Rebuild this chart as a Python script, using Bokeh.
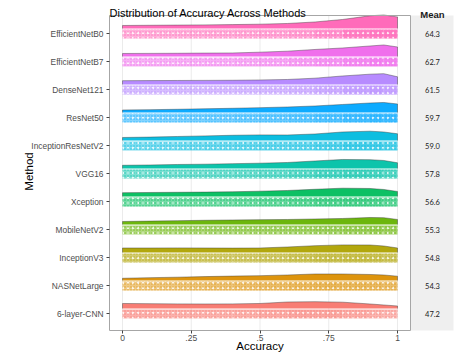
from bokeh.plotting import figure
from bokeh.models import Range1d, FixedTicker, LinearAxis, ColumnDataSource
from bokeh.core.properties import value
from bokeh.embed import file_html
from bokeh.resources import INLINE
import math

# ---------------- data ----------------
methods = ["6-layer-CNN", "NASNetLarge", "InceptionV3", "MobileNetV2", "Xception",
           "VGG16", "InceptionResNetV2", "ResNet50", "DenseNet121",
           "EfficientNetB7", "EfficientNetB0"]
colors = ["#F8766D", "#DB8E00", "#AEA200", "#64B200", "#00BD5C", "#00C1A7",
          "#00BADE", "#00A6FF", "#B385FF", "#EF67EB", "#FF63B6"]
means = [47.2, 54.3, 54.8, 55.3, 56.6, 57.8, 59.0, 59.7, 61.5, 62.7, 64.3]

# accuracy grid on which the density ridges were read
acc_grid = [0.0, 0.1, 0.2, 0.3, 0.4, 0.5, 0.6, 0.7, 0.8, 0.9, 0.95, 1.0]

dens_cnn6 = [5.0, 4.8, 4.6, 4.5, 4.6, 5.0, 6.5, 6.8, 6.3, 4.5, 3.5, 2.5]
dens_nasnetlarge = [2.2, 2.8, 3.3, 3.9, 4.4, 4.8, 5.5, 6.5, 6.5, 6.0, 5.5, 4.3]
dens_inceptionv3 = [4.5, 4.5, 4.6, 4.5, 4.4, 4.5, 5.5, 6.8, 7.6, 7.5, 6.5, 4.5]
dens_mobilenetv2 = [3.0, 3.4, 3.8, 4.2, 4.5, 4.8, 5.0, 5.5, 6.0, 7.0, 6.8, 5.0]
dens_xception = [3.8, 4.0, 4.2, 4.4, 4.7, 5.3, 6.0, 7.2, 8.3, 8.0, 7.0, 5.0]
dens_vgg16 = [3.2, 3.5, 4.0, 4.3, 4.8, 5.3, 6.0, 7.5, 9.0, 8.8, 8.0, 5.7]
dens_inceptionresnetv2 = [3.0, 3.4, 4.0, 4.6, 5.2, 5.6, 5.5, 6.5, 8.5, 9.3, 8.5, 6.7]
dens_resnet50 = [2.5, 2.8, 3.2, 3.7, 4.2, 4.8, 5.5, 6.5, 8.0, 9.5, 10.0, 8.5]
dens_densenet121 = [3.8, 3.9, 4.0, 4.1, 4.2, 4.5, 5.0, 6.3, 8.5, 10.3, 10.8, 7.7]
dens_efficientnetb7 = [3.0, 3.1, 3.2, 3.4, 3.5, 4.3, 5.3, 7.0, 8.5, 10.5, 11.5, 9.5]
dens_efficientnetb0 = [3.0, 3.2, 3.4, 3.6, 3.9, 4.3, 5.0, 6.5, 9.0, 12.7, 13.5, 11.5]

densities = [dens_cnn6, dens_nasnetlarge, dens_inceptionv3, dens_mobilenetv2,
             dens_xception, dens_vgg16, dens_inceptionresnetv2, dens_resnet50,
             dens_densenet121, dens_efficientnetb7, dens_efficientnetb0]

x_ticks = [0, 0.25, 0.5, 0.75, 1]
x_tick_labels = ["0", ".25", ".5", ".75", "1"]

# ---------------- layout constants ----------------
PX_X = 275.0      # pixels per accuracy unit
PX_Y = 28.0       # pixels per method row
X0_PX = 122.0     # pixel of accuracy 0
Y0_PX = 313.3     # pixel of first row centre
W, H = 474, 355

def xd(px):
    return (px - X0_PX) / PX_X

def yd(py):
    return (Y0_PX - py) / PX_Y

panel_l, panel_r = xd(109), xd(410)
panel_b, panel_t = yd(330), yd(15)
mean_r = xd(453)
mean_x = xd(432)

RIDGE_BASE = 0.19
RIDGE_SCALE = 1.0 / PX_Y
PT_LO, PT_HI = -0.17, 0.15

p = figure(width=W, height=H, x_range=Range1d(xd(0), xd(W)),
           y_range=Range1d(yd(H), yd(0)), output_backend="svg",
           toolbar_location=None, min_border=0,
           x_axis_type=None, y_axis_type=None)
p.outline_line_color = None
p.background_fill_color = "white"
p.border_fill_color = "white"

# mean side panel (grey strip)
p.quad(left=[panel_r], right=[mean_r], bottom=[panel_b], top=[panel_t],
       fill_color="#EFEFEF", line_color=None)
# main panel background
p.quad(left=[panel_l], right=[panel_r], bottom=[panel_b], top=[panel_t],
       fill_color="white", line_color=None)
# vertical grid lines
p.segment(x0=x_ticks, y0=[panel_b] * len(x_ticks), x1=x_ticks,
          y1=[panel_t] * len(x_ticks), line_color="#EBEBEB", line_width=1)

# jittered-point bands (texture whose strength follows the density)
ql, qr, qb, qt, qc, qa = [], [], [], [], [], []
for i, d in enumerate(densities):
    for j in range(len(acc_grid) - 1):
        ql.append(acc_grid[j])
        qr.append(acc_grid[j + 1])
        qb.append(i + PT_LO)
        qt.append(i + PT_HI)
        qc.append(colors[i])
        avg = 0.5 * (d[j] + d[j + 1])
        qa.append(min(0.38 + 0.04 * avg, 0.85))
psrc = ColumnDataSource(dict(left=ql, right=qr, bottom=qb, top=qt, color=qc, alpha=qa))
p.quad(left="left", right="right", bottom="bottom", top="top", source=psrc,
       fill_color="color", fill_alpha="alpha", line_color=None)
p.quad(left="left", right="right", bottom="bottom", top="top", source=psrc,
       fill_color=None, line_color=None,
       hatch_pattern="dot", hatch_color="white", hatch_scale=5, hatch_weight=1,
       hatch_alpha=0.8)
p.quad(left="left", right="right", bottom="bottom", top="top", source=psrc,
       fill_color=None, line_color=None,
       hatch_pattern="dot", hatch_color="color", hatch_scale=3, hatch_weight=1,
       hatch_alpha=0.7)

# density ridges
xs, ys, tx, ty = [], [], [], []
for i, d in enumerate(densities):
    base = i + RIDGE_BASE
    top = [base + RIDGE_SCALE * v for v in d]
    xs.append(list(acc_grid) + [acc_grid[-1], acc_grid[0]])
    ys.append(top + [base, base])
    tx.append([acc_grid[0]] + list(acc_grid) + [acc_grid[-1]])
    ty.append([base] + top + [base])
p.patches(xs, ys, fill_color=colors, fill_alpha=0.95, line_color=None)
p.multi_line(tx, ty, line_color="#333333", line_alpha=0.6, line_width=0.7)

# panel border
p.quad(left=[panel_l], right=[panel_r], bottom=[panel_b], top=[panel_t],
       fill_color=None, line_color="#A6A6A6", line_width=1)

# axes (fixed at the panel edges)
yaxis = LinearAxis(fixed_location=panel_l,
                   ticker=FixedTicker(ticks=list(range(len(methods)))),
                   major_label_overrides={i: m for i, m in enumerate(methods)})
yaxis.axis_line_color = None
yaxis.major_tick_out = 3
yaxis.major_tick_in = 0
yaxis.minor_tick_out = 0
yaxis.major_tick_line_color = "#444444"
yaxis.major_label_standoff = 3
yaxis.major_label_text_font = "Liberation Sans"
yaxis.major_label_text_font_size = "8.4px"
yaxis.major_label_text_color = "#4D4D4D"
p.add_layout(yaxis, "left")

xaxis = LinearAxis(fixed_location=panel_b, ticker=FixedTicker(ticks=x_ticks),
                   major_label_overrides=dict(zip(x_ticks, x_tick_labels)))
xaxis.axis_line_color = None
xaxis.major_tick_out = 3
xaxis.major_tick_in = 0
xaxis.minor_tick_out = 0
xaxis.major_tick_line_color = "#444444"
xaxis.major_label_standoff = 1
xaxis.major_label_text_font = "Liberation Sans"
xaxis.major_label_text_font_size = "8.5px"
xaxis.major_label_text_color = "#4D4D4D"
p.add_layout(xaxis, "below")

# mean values
p.text(x=[mean_x] * len(means), y=list(range(len(means))),
       text=[f"{m:.1f}" for m in means], text_align="center",
       text_baseline="middle", text_font=value("Lato"),
       text_font_size="7.5px", text_color="#1A1A1A")

# titles
p.text(x=[panel_l], y=[yd(12.5)], text=["Distribution of Accuracy Across Methods"],
       text_align="left", text_baseline="alphabetic",
       text_font=value("Liberation Sans"), text_font_size="11px",
       text_color="#000000")
p.text(x=[mean_x], y=[yd(13.5)], text=["Mean"], text_align="center",
       text_baseline="alphabetic", text_font=value("Liberation Sans"),
       text_font_size="9.5px", text_font_style="bold", text_color="#1A1A1A")
p.text(x=[0.5], y=[yd(345)], text=["Accuracy"], text_align="center",
       text_baseline="middle", text_font=value("Liberation Sans"),
       text_font_size="11.5px", text_color="#000000")
p.text(x=[xd(28)], y=[yd(171)], text=["Method"], text_align="center",
       text_baseline="middle", angle=math.pi / 2,
       text_font=value("Liberation Sans"), text_font_size="11.5px",
       text_color="#000000")

open("out.html", "w").write(file_html(p, INLINE))
